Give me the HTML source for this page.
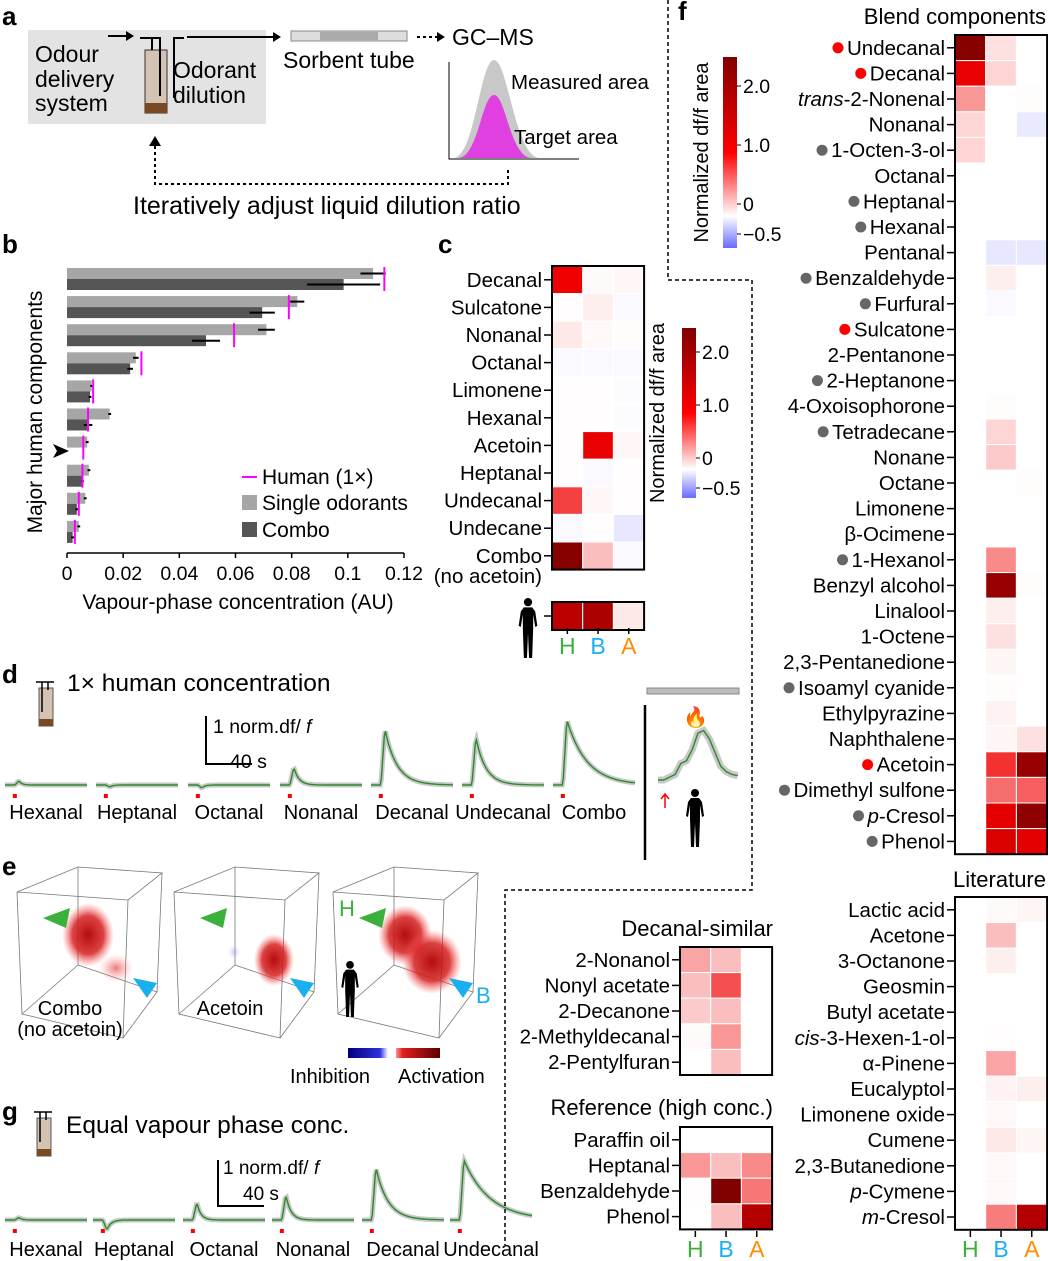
<!DOCTYPE html>
<html><head><meta charset="utf-8"><style>
body{margin:0;background:#fff}
svg{display:block;font-family:"Liberation Sans",Arial,sans-serif}
</style></head><body>
<svg id="fig" width="1048" height="1261" viewBox="0 0 1048 1261" xmlns="http://www.w3.org/2000/svg">
<defs>
<linearGradient id="cbar" x1="0" y1="1" x2="0" y2="0">
<stop offset="0" stop-color="#6a6aff"/><stop offset="0.167" stop-color="#fff"/><stop offset="0.5" stop-color="#ff0000"/><stop offset="1" stop-color="#800000"/></linearGradient>
<radialGradient id="blob"><stop offset="0" stop-color="#b00000" stop-opacity="0.95"/><stop offset="0.6" stop-color="#d62020" stop-opacity="0.85"/><stop offset="1" stop-color="#ff6060" stop-opacity="0"/></radialGradient>
<radialGradient id="blobl"><stop offset="0" stop-color="#e04040" stop-opacity="0.7"/><stop offset="1" stop-color="#ff9090" stop-opacity="0"/></radialGradient>
<radialGradient id="blobb"><stop offset="0" stop-color="#9090ff" stop-opacity="0.5"/><stop offset="1" stop-color="#c0c0ff" stop-opacity="0"/></radialGradient>
<linearGradient id="inh" x1="0" x2="1"><stop offset="0" stop-color="#00007a"/><stop offset="0.8" stop-color="#3030e0"/><stop offset="1" stop-color="#fff"/></linearGradient>
<linearGradient id="act" x1="0" x2="1"><stop offset="0" stop-color="#ff9090"/><stop offset="0.15" stop-color="#e02020"/><stop offset="1" stop-color="#5a0000"/></linearGradient>
<symbol id="person" viewBox="0 0 20 60"><circle cx="10" cy="5" r="4"/><path d="M6 10h8l3 4 2 14-2 1-2-12v14l-1 28h-3l-1-24-1 24H6l-1-28V17l-2 12-2-1 2-14z"/></symbol>
</defs>

<g font-weight="bold" font-size="26">
<text x="2" y="25">a</text><text x="2" y="253">b</text><text x="438" y="253">c</text><text x="2" y="683">d</text><text x="2" y="875">e</text><text x="2" y="1120">g</text><text x="678" y="20">f</text></g>

<g font-size="23">
<rect x="28" y="30" width="238" height="94" fill="#e3e3e3"/>
<text x="35" y="62">Odour</text><text x="35" y="87">delivery</text><text x="35" y="111">system</text>
<rect x="145" y="50" width="22" height="63" fill="#d4c2b2" stroke="#333"/><rect x="145" y="103" width="22" height="10" fill="#7a4a22"/>
<path d="M140 38h20v58M152 38v12M184 38h-10v60" stroke="#000" stroke-width="2" fill="none"/>
<path d="M108 36h18M187 37h86" stroke="#000" stroke-width="2"/><path d="M126 31l8 5-8 5zM273 32l8 5-8 5z"/>
<text x="173" y="78">Odorant</text><text x="173" y="103">dilution</text>
<rect x="291" y="31" width="116" height="10" fill="#ddd" stroke="#888"/><rect x="320" y="32" width="58" height="8" fill="#aaa"/>
<text x="283" y="68">Sorbent tube</text>
<path d="M417 37h20" stroke="#000" stroke-width="2" stroke-dasharray="3,3"/><path d="M437 32l8 5-8 5z"/>
<text x="452" y="45">GC–MS</text>
<path d="M449 62v97h130" stroke="#000" fill="none"/>
<path d="M453 158C475 158 480 60 494 60S515 158 540 158Z" fill="#c8c8c8"/>
<path d="M458 158C478 158 482 95 494 95S510 158 532 158Z" fill="#e040e0"/>
<text x="511" y="89" font-size="20.5">Measured area</text><text x="514" y="144" font-size="20.5">Target area</text>
<path d="M508 170v14H155v-40" stroke="#000" stroke-width="2" stroke-dasharray="3,3" fill="none"/><path d="M149 146l6-10 6 10z"/>
<text x="133" y="214" font-size="25">Iteratively adjust liquid dilution ratio</text>
</g>

<g id="pb"></g>
<g id="pc"></g>
<g id="pf"></g>
<g id="pd"></g>
<g id="pe"></g>

<path d="M668 0v280h84v610H505v355" stroke="#000" stroke-width="1.5" stroke-dasharray="4,3" fill="none"/>
</svg>
<script>
const NS='http://www.w3.org/2000/svg';
function mk(p,t,a,txt){const e=document.createElementNS(NS,t);for(const k in a)e.setAttribute(k,a[k]);if(txt!=null)e.textContent=txt;p.appendChild(e);return e;}
function col(v){
  function mix(a,b,t){return 'rgb('+a.map((x,i)=>Math.round(x+(b[i]-x)*t)).join(',')+')';}
  if(v<0)return mix([255,255,255],[106,106,255],Math.min(1,-v/0.5));
  if(v<=1)return mix([255,255,255],[240,0,0],Math.pow(v,1.3));
  return mix([240,0,0],[128,0,0],Math.min(1,(v-1)/1.5));
}

const bTicks=[0,0.02,0.04,0.06,0.08,0.1,0.12];
const bTickLabels=['0','0.02','0.04','0.06','0.08','0.1','0.12'];
const bSingle=[0.109,0.082,0.071,0.0245,0.0088,0.0152,0.0072,0.0078,0.0065,0.0042];
const bCombo=[0.0985,0.0695,0.0495,0.0225,0.0082,0.0075,0,0.0055,0.0035,0.002];
const bHuman=[0.113,0.079,0.0595,0.0265,0.0093,0.0075,0.0058,0.0055,0.0042,0.0028];
const bErrSingle=[0.0045,0.0025,0.003,0.001,0.0005,0.0005,0.0005,0.0005,0.0005,0.0005];
const bErrCombo=[0.013,0.0045,0.005,0.001,0.0005,0.0015,0,0.0005,0.0005,0.0005];
{
const g=document.getElementById('pb');
const x=v=>67+v*(404-67)/0.12;
const gy=i=>268+i*28.1;
bSingle.forEach((v,i)=>{
  const y=gy(i);
  let r=mk(g,'rect',{x:x(0),y:y,width:x(v)-x(0),height:11,fill:'#a6a6a6'});
  
  mk(g,'line',{x1:x(v-bErrSingle[i]),x2:x(v+bErrSingle[i]),y1:y+5.5,y2:y+5.5,stroke:'#000','stroke-width':2});
  if(bCombo[i]>0){
    r=mk(g,'rect',{x:x(0),y:y+11,width:x(bCombo[i])-x(0),height:11,fill:'#555'});
    
    mk(g,'line',{x1:x(bCombo[i]-bErrCombo[i]),x2:x(bCombo[i]+bErrCombo[i]),y1:y+16.5,y2:y+16.5,stroke:'#000','stroke-width':2});
  }
  r=mk(g,'line',{x1:x(bHuman[i]),x2:x(bHuman[i]),y1:y-1,y2:y+23,stroke:'#ff00ff','stroke-width':2});
  
});
mk(g,'line',{x1:67,x2:404,y1:553,y2:553,stroke:'#000','stroke-width':1.5});
bTicks.forEach((t,i)=>{mk(g,'line',{x1:x(t),x2:x(t),y1:553,y2:558,stroke:'#000','stroke-width':1.5});
 const tl=mk(g,'text',{x:x(t),y:580,'font-size':19.5,'text-anchor':'middle'},bTickLabels[i]);});
let t=mk(g,'text',{x:238,y:609,'font-size':21,'text-anchor':'middle'},'Vapour-phase concentration (AU)');
t=mk(g,'text',{x:0,y:0,'font-size':21,'text-anchor':'middle',transform:'translate(42,412) rotate(-90)'},'Major human components');
mk(g,'path',{d:'M53 444l16 7-16 7 4-7z'});
const lg=mk(g,'g',{'font-size':21});
mk(lg,'line',{x1:242,x2:257,y1:477,y2:477,stroke:'#ff00ff','stroke-width':2});mk(lg,'text',{x:262,y:484},'Human (1×)');
mk(lg,'rect',{x:242,y:495,width:15,height:15,fill:'#a6a6a6'});mk(lg,'text',{x:262,y:510},'Single odorants');
mk(lg,'rect',{x:242,y:522,width:15,height:15,fill:'#555'});mk(lg,'text',{x:262,y:537},'Combo');
}

function heat(g,x0,y0,rh,names,vals,opts){
  opts=opts||{};
  const cw=30.7;
  names.forEach((n,i)=>{
    vals[i].forEach((v,j)=>{
      const r=mk(g,'rect',{x:x0+j*cw,y:y0+i*rh,width:cw,height:rh,fill:col(v),stroke:'#fff','stroke-width':1});
      
    });
    const cy=y0+i*rh+rh/2;
    mk(g,'line',{x1:x0-8,x2:x0,y1:cy,y2:cy,stroke:'#000','stroke-width':1.5});
    const lbl=mk(g,'text',{x:x0-10,y:cy+7,'font-size':20.5,'text-anchor':'end'});
    
    if(typeof n==='string')lbl.textContent=n;else{mk(lbl,'tspan',{'font-style':'italic'},n[0]);mk(lbl,'tspan',{},n[1]);}
    if(opts.dots&&opts.dots[i]){
      const w=lbl.getComputedTextLength?lbl.getComputedTextLength():0;
      const d=mk(g,'circle',{cx:x0-10-w-9,cy:cy,r:5.5,fill:opts.dots[i]==='r'?'#f00':'#666'});
      
    }
  });
  mk(g,'rect',{x:x0,y:y0,width:cw*3,height:rh*names.length,fill:'none',stroke:'#000','stroke-width':2});
}
function hba(g,x0,y){const c=['#3cb03c','#1ab0f0','#ff8c00'];['H','B','A'].forEach((s,j)=>{const cx=x0+15.35+j*30.7;mk(g,'line',{x1:cx,x2:cx,y1:y-26,y2:y-20,stroke:'#000','stroke-width':1.5});const t=mk(g,'text',{x:cx,y:y,'font-size':23,'text-anchor':'middle',fill:c[j]},s);});}
function cbar(g,x,y0,h,ticks,ty,lx){
  mk(g,'rect',{x:x,y:y0,width:14,height:h,fill:'url(#cbar)'});
  ticks.forEach((s,i)=>{mk(g,'line',{x1:x+14,x2:x+18,y1:ty[i],y2:ty[i],stroke:'#000'});mk(g,'text',{x:x+20,y:ty[i]+7,'font-size':19.5},s);});
  const t=mk(g,'text',{x:0,y:0,'font-size':20,'text-anchor':'middle',transform:'translate('+lx+','+(y0+h/2)+') rotate(-90)'},'Normalized df/f area');
  
}

const cNames=['Decanal','Sulcatone','Nonanal','Octanal','Limonene','Hexanal','Acetoin','Heptanal','Undecanal','Undecane','Combo'];
const cVals=[[1.0,0.05,0.07],[0.02,0.12,-0.02],[0.15,0.06,0.03],[-0.02,-0.02,-0.02],[0.02,0.02,-0.01],[0.02,0.02,-0.01],[0.02,1.1,0.07],[0.02,-0.02,0.02],[0.8,0.07,0.02],[-0.02,0.02,-0.08],[2.4,0.35,-0.02]];
const cHuman=[[1.7,1.9,0.15]];
{
const g=document.getElementById('pc');
heat(g,552,266,27.6,cNames,cVals);
mk(g,'text',{x:542,y:583,'font-size':20.5,'text-anchor':'end'},'(no acetoin)');
const hg=mk(g,'g',{});heat(hg,552,602,28,[''],cHuman);
mk(g,'use',{href:'#person',x:516,y:597,width:24,height:62});
hba(g,552,654);
cbar(g,682,328,170,['2.0','1.0','0','−0.5'],[352,405,458,488],664);
}

const fNames=['Undecanal','Decanal',['trans','-2-Nonenal'],'Nonanal','1-Octen-3-ol','Octanal','Heptanal','Hexanal','Pentanal','Benzaldehyde','Furfural','Sulcatone','2-Pentanone','2-Heptanone','4-Oxoisophorone','Tetradecane','Nonane','Octane','Limonene','β-Ocimene','1-Hexanol','Benzyl alcohol','Linalool','1-Octene','2,3-Pentanedione','Isoamyl cyanide','Ethylpyrazine','Naphthalene','Acetoin','Dimethyl sulfone',['p','-Cresol'],'Phenol'];
const fVals=[[2.4,0.2,0],[1.1,0.25,0],[0.5,0,0.03],[0.25,0,-0.07],[0.25,0,0],[0,0,0],[0,0,0],[0,0,0],[0,-0.08,-0.08],[0,0.12,0],[0,-0.02,0],[0,0,0],[0,0,0],[0,0,0],[0,0.03,0],[0,0.25,0],[0,0.3,0],[0,0,0.03],[0,0,0],[0,0,0],[0,0.55,0],[0,2.2,0.03],[0,0.12,0],[0,0.2,0],[0,0.08,0],[0,0.03,0],[0,0.1,0],[0,0.08,0.2],[0,0.85,2.2],[0,0.65,0.7],[0,1.15,2.3],[0,1.3,1.15]];
const fDots=['r','r',0,0,'g',0,'g','g',0,'g','g','r',0,'g',0,'g',0,0,0,0,'g',0,0,0,0,'g',0,0,'r','g','g','g'];
const litNames=['Lactic acid','Acetone','3-Octanone','Geosmin','Butyl acetate',['cis','-3-Hexen-1-ol'],'α-Pinene','Eucalyptol','Limonene oxide','Cumene','2,3-Butanedione',['p','-Cymene'],['m','-Cresol']];
const litVals=[[0,0.05,0.08],[0,0.35,0],[0,0.12,0],[0,0,0],[0,0,0],[0,0.02,0],[0,0.45,0],[0,0.1,0.12],[0,0.06,0],[0,0.15,0.08],[0,0.06,0],[0,0.06,0],[0,0.6,1.8]];
const decNames=['2-Nonanol','Nonyl acetate','2-Decanone','2-Methyldecanal','2-Pentylfuran'];
const decVals=[[0.45,0.35,0],[0.35,0.75,0],[0.3,0.35,0],[0.05,0.5,0],[0,0.35,0]];
const refNames=['Paraffin oil','Heptanal','Benzaldehyde','Phenol'];
const refVals=[[0,0,0],[0.5,0.35,0.55],[0.02,2.5,0.62],[0,0.35,1.8]];
{
const g=document.getElementById('pf');
mk(g,'text',{x:1046,y:24,'font-size':22,'text-anchor':'end'},'Blend components');
heat(g,955,35,25.6,fNames,fVals,{dots:fDots});
cbar(g,723,57,191,['2.0','1.0','0','−0.5'],[86,145,204,234],708);
mk(g,'text',{x:1046,y:887,'font-size':22,'text-anchor':'end'},'Literature');
heat(g,955,897,25.6,litNames,litVals);hba(g,955,1257);
mk(g,'text',{x:773,y:936,'font-size':22,'text-anchor':'end'},'Decanal-similar');
heat(g,680,947,25.6,decNames,decVals);
mk(g,'text',{x:773,y:1115,'font-size':22,'text-anchor':'end'},'Reference (high conc.)');
heat(g,680,1127,25.6,refNames,refVals);hba(g,680,1257);
}

const dNames=['Hexanal','Heptanal','Octanal','Nonanal','Decanal','Undecanal','Combo'];
const dPeak=[0.08,-0.04,-0.06,0.35,1.12,0.95,1.3];
const dDecay=[3,3,3,5,12,10,20];
const gNames=['Hexanal','Heptanal','Octanal','Nonanal','Decanal','Undecanal'];
const gPeak=[0.05,-0.2,0.35,0.5,1.05,1.2];
const gDecay=[3,4,4,5,12,26];
function trace(g,x0,w,base,scale,peak,decay,name,ly){
  let d='';const n=80;
  for(let i=0;i<=n;i++){const t=i/n*w;let v=0;const on=w*0.12;
    if(t>on){const tt=t-on;v=peak*(tt<4?tt/4:Math.exp(-(tt-4)/decay));}
    d+=(i?'L':'M')+(x0+t).toFixed(1)+' '+(base-v*scale).toFixed(1);}
  mk(g,'path',{d:d,stroke:'#c8c8c8','stroke-width':5,fill:'none'});
  const p=mk(g,'path',{d:d,stroke:'#2a8a2a','stroke-width':1.4,fill:'none'});
  
  mk(g,'rect',{x:x0+w*0.12-2,y:base+9,width:4,height:4,fill:'#f00'});
  const t=mk(g,'text',{x:x0+w/2,y:ly,'font-size':20,'text-anchor':'middle'},name);
  
}
function vial(g,x,y){mk(g,'rect',{x:x+3,y:y+8,width:14,height:38,fill:'#d4c2b2',stroke:'#555'});mk(g,'rect',{x:x+3,y:y+39,width:14,height:7,fill:'#7a4a22'});mk(g,'path',{d:'M'+x+' '+(y+2)+'h18M'+(x+6)+' '+(y+2)+'v30M'+(x+12)+' '+(y+2)+'v8',stroke:'#000','stroke-width':1.5,fill:'none'});}
{
const g=document.getElementById('pd');
const dx=[5,96,188,280,371,462,553];
dNames.forEach((n,i)=>trace(g,dx[i],82,785,50,dPeak[i],dDecay[i],n,819));
vial(g,36,680);mk(g,'text',{x:67,y:691,'font-size':24.5},'1× human concentration');
mk(g,'path',{d:'M206 716v48h46',stroke:'#000','stroke-width':2,fill:'none'});
mk(g,'text',{x:213,y:733,'font-size':19.5},'1 norm.df/');mk(g,'text',{x:306,y:733,'font-size':19.5,'font-style':'italic'},'f');
mk(g,'text',{x:230,y:768,'font-size':19.5},'40 s');
mk(g,'path',{d:'M645 705v155',stroke:'#000','stroke-width':2.5});
mk(g,'rect',{x:647,y:688,width:92,height:6,fill:'#bbb',stroke:'#888'});
mk(g,'text',{x:683,y:724,'font-size':20},'🔥');
let hp='';const hv=[0,0,0.05,0.1,0.3,0.35,0.55,0.85,0.9,0.75,0.5,0.25,0.15,0.1,0.08];
hv.forEach((v,i)=>{hp+=(i?'L':'M')+(658+i*5.7)+' '+(780-v*55);});
mk(g,'path',{d:hp,stroke:'#c8c8c8','stroke-width':7,fill:'none'});mk(g,'path',{d:hp,stroke:'#2a8a2a','stroke-width':1.4,fill:'none'});
mk(g,'path',{d:'M665 808v-13M661 799l4-5 4 5',stroke:'#f00','stroke-width':1.5,fill:'none'});
mk(g,'use',{href:'#person',x:685,y:788,width:20,height:60});
const gx=[5,93,183,272,362,450];
gNames.forEach((n,i)=>trace(g,gx[i],82,1220,50,gPeak[i],gDecay[i],n,1256));
vial(g,34,1110);mk(g,'text',{x:66,y:1133,'font-size':24.5},'Equal vapour phase conc.');
mk(g,'path',{d:'M218 1160v46h46',stroke:'#000','stroke-width':2,fill:'none'});
mk(g,'text',{x:223,y:1174,'font-size':19},'1 norm.df/');mk(g,'text',{x:314,y:1174,'font-size':19,'font-style':'italic'},'f');
mk(g,'text',{x:243,y:1200,'font-size':19},'40 s');
}

{
const g=document.getElementById('pe');
[0,157,316].forEach((o,k)=>{
  const b=mk(g,'g',{transform:'translate('+o+',0)',stroke:'#777','stroke-width':0.8,fill:'none'});
  
  mk(b,'path',{d:'M17 892L78 867L162 873L128 900ZM17 892L22 1014L123 1038L128 900M123 1038L157 992L162 873M78 867L78 965L157 992M78 965L22 1014'});
  if(k===0){mk(g,'ellipse',{cx:88,cy:935,rx:26,ry:32,fill:'url(#blob)'});mk(g,'ellipse',{cx:116,cy:968,rx:17,ry:14,fill:'url(#blobl)'});
    mk(g,'text',{x:70,y:1015,'font-size':20,'text-anchor':'middle'},'Combo');mk(g,'text',{x:70,y:1036,'font-size':20,'text-anchor':'middle'},'(no acetoin)');}
  if(k===1){mk(g,'ellipse',{cx:274,cy:960,rx:20,ry:26,fill:'url(#blob)'});mk(g,'ellipse',{cx:234,cy:952,rx:6,ry:7,fill:'url(#blobb)'});
    mk(g,'text',{x:230,y:1015,'font-size':20,'text-anchor':'middle'},'Acetoin');}
  if(k===2){mk(g,'ellipse',{cx:405,cy:935,rx:27,ry:30,fill:'url(#blob)'});mk(g,'ellipse',{cx:432,cy:962,rx:30,ry:32,fill:'url(#blob)'});
    mk(g,'use',{href:'#person',x:340,y:960,width:20,height:58});
    mk(g,'text',{x:339,y:916,'font-size':22,fill:'#3cb03c'},'H');mk(g,'text',{x:476,y:1003,'font-size':22,fill:'#1ab0f0'},'B');}
  mk(g,'path',{d:'M'+(43+o)+' '+(918)+'l27 -10 -4 20z',fill:'#3cb03c'});
  mk(g,'path',{d:'M'+(133+o)+' '+(978)+'l24 5 -10 15z',fill:'#1ab0f0'});
});
mk(g,'rect',{x:348,y:1048,width:40,height:10,fill:'url(#inh)'});mk(g,'rect',{x:396,y:1048,width:44,height:10,fill:'url(#act)'});
mk(g,'text',{x:290,y:1083,'font-size':20},'Inhibition');mk(g,'text',{x:398,y:1083,'font-size':20},'Activation');
}
</script>
</body></html>
